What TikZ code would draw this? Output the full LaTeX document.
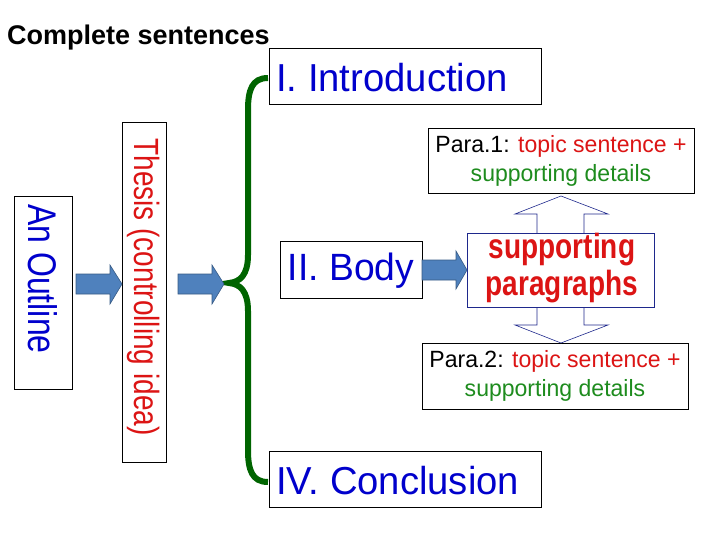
\documentclass[tikz,border=0pt]{standalone}
\usepackage{fontspec}
\setmainfont{Liberation Sans}
\newfontfamily\nar[FakeStretch=0.8]{Liberation Sans}
\newfontfamily\midf[FakeStretch=0.98]{Liberation Sans}
\usetikzlibrary{shapes.arrows}
\definecolor{tblue}{RGB}{0,0,204}
\definecolor{tred}{RGB}{220,20,20}
\definecolor{tgreen}{RGB}{30,140,30}
\definecolor{bgreen}{RGB}{0,100,0}
\definecolor{abl}{RGB}{79,129,189}
\definecolor{navy}{RGB}{30,40,140}
\begin{document}
\begin{tikzpicture}[x=1pt,y=-1pt,
  box/.style={draw=black,line width=0.8pt,fill=white,inner sep=0pt,anchor=north west},
  blk/.style={fill=abl,draw=abl!70!black,line width=0.6pt}]
\useasboundingbox (0,0) rectangle (720,540);
\node[anchor=base west,font=\bfseries\fontsize{27}{30}\selectfont,inner sep=0pt] (title) at (7,45) {Complete sentences};
% brace
\draw[bgreen,line width=6pt] (268,78) .. controls (252,78) and (248,90) .. (248,110) -- (248,255) .. controls (248,275) and (240,282) .. (229,283)
  .. controls (240,284) and (248,291) .. (248,311) -- (248,450) .. controls (248,470) and (252,482) .. (268,482);
% boxes
\node[box,minimum width=272,minimum height=56] (intro) at (269,48) {};
\node[font=\midf\fontsize{39}{42}\selectfont,text=tblue,anchor=west,inner sep=0pt] at (276,78) {I. Introduction};
\node[box,minimum width=272,minimum height=56] (concl) at (269,451) {};
\node[font=\midf\fontsize{39}{42}\selectfont,text=tblue,anchor=west,inner sep=0pt] at (276,481) {IV. Conclusion};
\node[box,minimum width=142,minimum height=57] (body) at (280,241) {};
\node[font=\midf\fontsize{38}{40}\selectfont,text=tblue] at (351,271) {II. Body};
\node[box,minimum width=266,minimum height=65] (p1) at (428,128) {};
\node[align=center,font=\midf\fontsize{23.5}{29}\selectfont] at (561,161) {Para.1: \textcolor{tred}{topic sentence +}\\\textcolor{tgreen}{supporting details}};
\node[box,minimum width=266,minimum height=66] (p2) at (422,343) {};
\node[align=center,font=\midf\fontsize{23.5}{29}\selectfont] at (555,376) {Para.2: \textcolor{tred}{topic sentence +}\\\textcolor{tgreen}{supporting details}};
\node[box,draw=navy,minimum width=187,minimum height=74] (sp) at (467,233) {};
\node[align=center,text=tred,font=\bfseries\nar\fontsize{35}{37}\selectfont] at (562,268) {supporting\\paragraphs};
% double arrows
\draw[navy,line width=0.6pt] (537,233) -- (537,214) -- (515,214) -- (561,196) -- (608,214) -- (584,214) -- (584,233);
\draw[navy,line width=0.6pt] (537,307) -- (537,325) -- (515,325) -- (561,343) -- (608,325) -- (584,325) -- (584,307);
% vertical boxes
\node[box,minimum width=58,minimum height=193] (outl) at (14,196) {};
\node[rotate=-90,text=tblue,font=\nar\fontsize{40}{42}\selectfont] at (43,279) {An Outline};
\node[box,minimum width=44,minimum height=340] (thes) at (122,122) {};
\node[rotate=-90,text=tred,font=\nar\fontsize{35}{40}\selectfont] at (144,287) {Thesis (controlling idea)};
% block arrows
\draw[blk] (76,274) -- (110,274) -- (110,265) -- (122,284) -- (110,304) -- (110,294) -- (76,294) -- cycle;
\draw[blk] (178,274) -- (212,274) -- (212,265) -- (224,284) -- (212,304) -- (212,294) -- (178,294) -- cycle;
\draw[blk] (422,260) -- (456,260) -- (456,251) -- (467,270) -- (456,289) -- (456,280) -- (422,280) -- cycle;
\end{tikzpicture}
\end{document}
